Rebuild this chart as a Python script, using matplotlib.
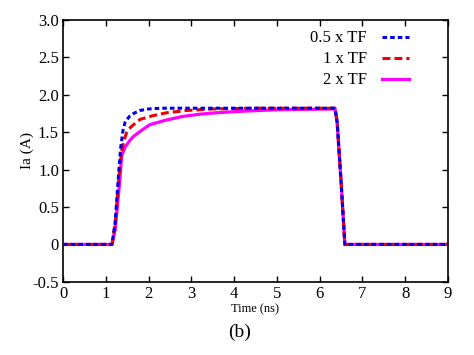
"""
Ia vs time for three TF scalings, panel (b).
"""
import matplotlib
matplotlib.use("Agg")
import matplotlib.pyplot as plt

plt.rcParams['font.family'] = ['Liberation Serif', 'DejaVu Serif']

# Data
t_05 = [0, 1.145, 1.22, 1.30, 1.35, 1.40, 1.45, 1.55, 1.65, 1.80, 2.00, 2.30,
        6.36, 6.41, 6.50, 6.59, 9]
i_05 = [0, 0, 0.30, 0.95, 1.30, 1.52, 1.63, 1.71, 1.75, 1.79, 1.81, 1.82,
        1.82, 1.63, 0.85, 0, 0]

t_1 = [0, 1.145, 1.22, 1.31, 1.37, 1.43, 1.49, 1.57, 1.65, 1.80, 2.10, 2.43,
       2.90, 3.50, 4.50, 6.36, 6.41, 6.50, 6.59, 9]
i_1 = [0, 0, 0.28, 0.92, 1.25, 1.40, 1.50, 1.56, 1.60, 1.67, 1.72, 1.76,
       1.79, 1.81, 1.82, 1.82, 1.63, 0.85, 0, 0]

t_2 = [0, 1.145, 1.22, 1.33, 1.37, 1.45, 1.55, 1.64, 1.85, 2.03, 2.40, 2.80,
       3.20, 3.60, 4.20, 5.00, 6.36, 6.41, 6.50, 6.59, 9]
i_2 = [0, 0, 0.20, 0.87, 1.18, 1.30, 1.38, 1.44, 1.53, 1.60, 1.66, 1.71,
       1.74, 1.76, 1.78, 1.80, 1.81, 1.63, 0.85, 0, 0]

labels = ['0.5 x TF', '1 x TF', '2 x TF']
x_ticks = list(range(10))
y_ticks = [-0.5, 0, 0.5, 1.0, 1.5, 2.0, 2.5, 3.0]
y_ticklabels = ['-0.5', '0', '0.5', '1.0', '1.5', '2.0', '2.5', '3.0']

fig = plt.figure(figsize=(4.74, 3.55), dpi=100)
ax = fig.add_axes([0.133, 0.206, 0.812, 0.738])

ax.plot(t_2, i_2, color='#ff00ff', lw=2.3, label=labels[2], zorder=2)
ax.plot(t_1, i_1, color='#ee0000', lw=2.2, linestyle=(0, (2.6, 1.3)),
        label=labels[1], zorder=3)
ax.plot(t_05, i_05, color='#0000ee', lw=2.2, linestyle=(0, (1.5, 1.0)),
        label=labels[0], zorder=4)

ax.set_xlim(0, 9)
ax.set_ylim(-0.5, 3.0)
ax.set_xticks(x_ticks)
ax.set_yticks(y_ticks)
ax.set_yticklabels(y_ticklabels)
ax.tick_params(direction='in', top=True, right=True, length=4, width=1,
               labelsize=12, pad=3)
for s in ax.spines.values():
    s.set_linewidth(1.2)

ax.set_xlabel('Time (ns)', fontsize=9, labelpad=1)
ax.set_ylabel('Ia (A)', fontsize=11, labelpad=-1)

h, l = ax.get_legend_handles_labels()
order = [2, 1, 0]
ax.legend([h[i] for i in order], [l[i] for i in order], loc='upper right',
          bbox_to_anchor=(0.915, 0.985), frameon=False, markerfirst=False,
          fontsize=12, handlelength=1.6, handletextpad=0.9,
          labelspacing=0.3, borderaxespad=0.0)

fig.text(0.506, 0.065, '(b)', fontsize=14, ha='center', va='center')

fig.savefig('out.png', dpi=100)
